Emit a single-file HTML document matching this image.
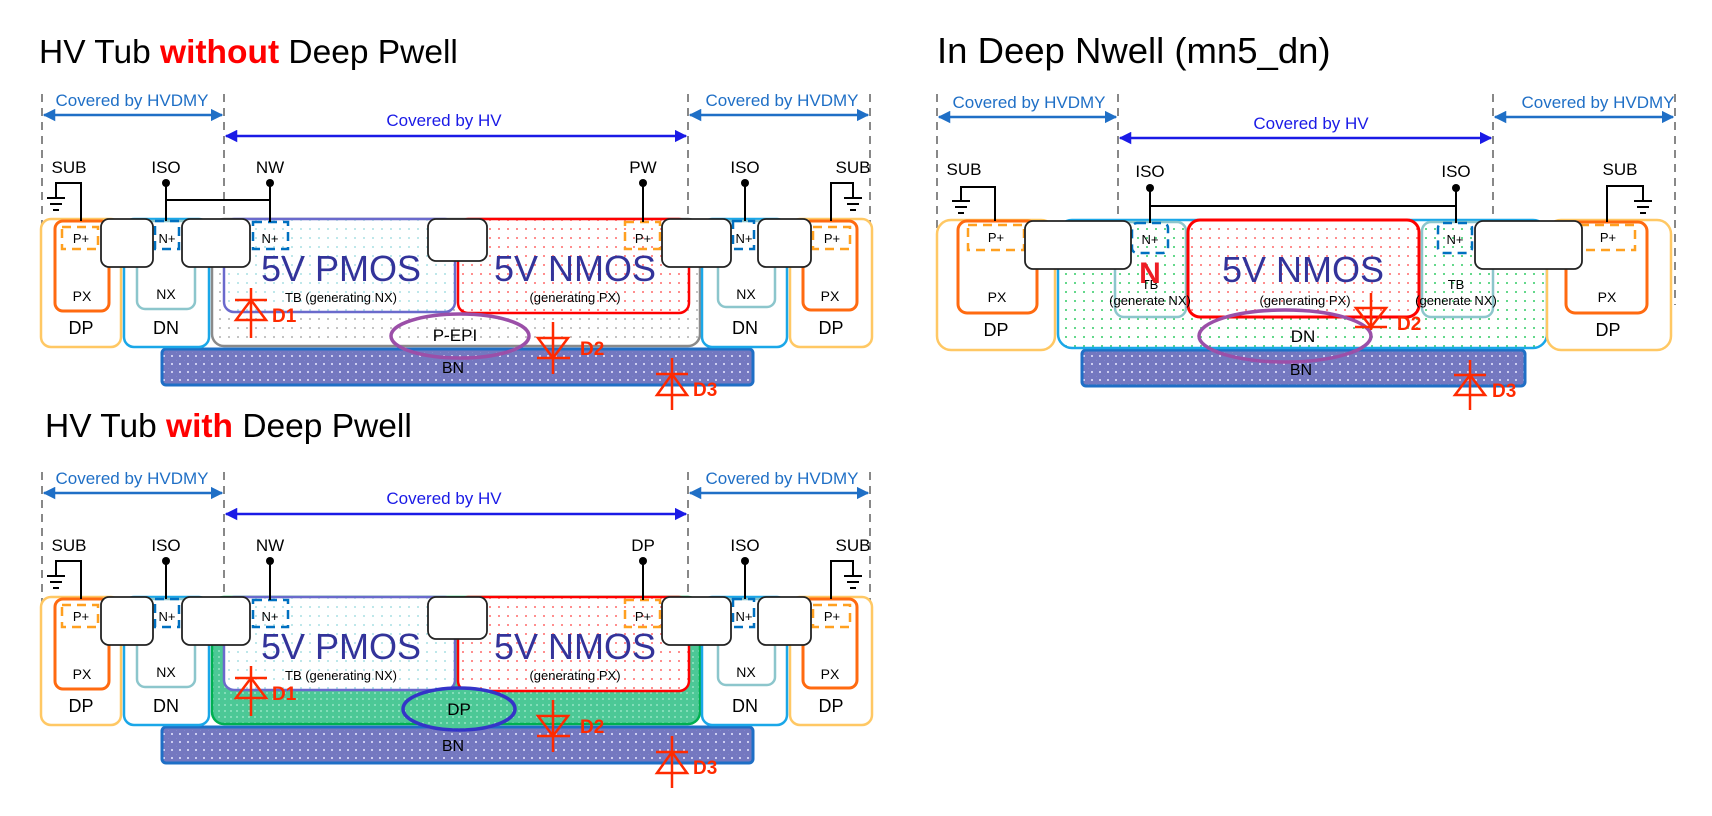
<!DOCTYPE html>
<html><head><meta charset="utf-8"><style>
html,body{margin:0;padding:0;background:#fff;}
svg{display:block;font-family:"Liberation Sans",Arial,sans-serif;}
</style></head><body>
<svg width="1712" height="816" viewBox="0 0 1712 816" xmlns="http://www.w3.org/2000/svg">
<defs>
<pattern id="pg" width="9" height="9" patternUnits="userSpaceOnUse"><rect width="9" height="9" fill="#fff"/><circle cx="4" cy="4" r="0.9" fill="#999"/></pattern>
<pattern id="pc" width="9" height="9" patternUnits="userSpaceOnUse"><rect width="9" height="9" fill="#fff"/><circle cx="4" cy="4" r="0.9" fill="#8fd6dc"/></pattern>
<pattern id="pr" width="9" height="9" patternUnits="userSpaceOnUse"><rect width="9" height="9" fill="#fff"/><circle cx="4" cy="4" r="1" fill="#ff6a6a"/></pattern>
<pattern id="pgr" width="9" height="9" patternUnits="userSpaceOnUse"><rect width="9" height="9" fill="#fff"/><circle cx="4" cy="4" r="1" fill="#33cc66"/></pattern>
<pattern id="pgreen" width="6" height="6" patternUnits="userSpaceOnUse"><rect width="6" height="6" fill="#4cc896"/><circle cx="3" cy="3" r="0.9" fill="#a8ecd0"/></pattern>
<pattern id="pbn" width="8" height="8" patternUnits="userSpaceOnUse"><rect width="8" height="8" fill="#7478c0"/><circle cx="4" cy="4" r="1" fill="#e8e8ff"/><circle cx="0" cy="0" r="0.6" fill="#a6a8dc"/></pattern>
<marker id="ab" viewBox="0 0 10 10" refX="9" refY="5" markerWidth="5" markerHeight="5" orient="auto-start-reverse"><path d="M0,0 L10,5 L0,10 z" fill="#1f6fc6"/></marker>
<marker id="av" viewBox="0 0 10 10" refX="9" refY="5" markerWidth="5" markerHeight="5" orient="auto-start-reverse"><path d="M0,0 L10,5 L0,10 z" fill="#1a1ae6"/></marker>
</defs>

<text x="39" y="63" font-size="33.5" fill="#000">HV Tub <tspan fill="#f00" font-weight="bold">without</tspan> Deep Pwell</text>
<text x="45" y="437" font-size="33.5" fill="#000">HV Tub <tspan fill="#f00" font-weight="bold">with</tspan> Deep Pwell</text>
<text x="937" y="63" font-size="36.5" fill="#000">In Deep Nwell (mn5_dn)</text>

<g id="L1">
<g stroke="#888" stroke-width="2" stroke-dasharray="8,6">
<line x1="42" y1="94" x2="42" y2="335"/><line x1="224" y1="94" x2="224" y2="335"/>
<line x1="688" y1="94" x2="688" y2="335"/><line x1="870" y1="94" x2="870" y2="335"/>
</g>
<text x="132" y="106" font-size="17" fill="#1f6fc6" text-anchor="middle">Covered by HVDMY</text>
<line x1="44" y1="115" x2="222" y2="115" stroke="#1f6fc6" stroke-width="2.5" marker-start="url(#ab)" marker-end="url(#ab)"/>
<text x="782" y="106" font-size="17" fill="#1f6fc6" text-anchor="middle">Covered by HVDMY</text>
<line x1="690" y1="115" x2="868" y2="115" stroke="#1f6fc6" stroke-width="2.5" marker-start="url(#ab)" marker-end="url(#ab)"/>
<text x="444" y="126" font-size="17" fill="#1a1ae6" text-anchor="middle">Covered by HV</text>
<line x1="226" y1="136" x2="686" y2="136" stroke="#1a1ae6" stroke-width="2.5" marker-start="url(#av)" marker-end="url(#av)"/>

<rect x="162" y="349" width="591" height="36" rx="4" fill="url(#pbn)" stroke="#1f6fc6" stroke-width="3"/>
<text x="453" y="373" font-size="16" text-anchor="middle">BN</text>
<rect x="212" y="219" width="488" height="127" rx="12" fill="url(#pg)" stroke="#8a8a8a" stroke-width="2.5"/>
<rect x="41" y="219" width="80" height="128" rx="10" fill="#fff" stroke="#ffc864" stroke-width="2.5"/>
<rect x="55" y="221" width="54" height="90" rx="8" fill="#fff" stroke="#ff6a10" stroke-width="3"/>
<rect x="124" y="219" width="85" height="128" rx="10" fill="#fff" stroke="#1aa7e8" stroke-width="2.5"/>
<rect x="137" y="221" width="58" height="88" rx="8" fill="#fff" stroke="#8cc6cc" stroke-width="2.5"/>
<rect x="702" y="219" width="85" height="128" rx="10" fill="#fff" stroke="#1aa7e8" stroke-width="2.5"/>
<rect x="718" y="221" width="57" height="86" rx="8" fill="#fff" stroke="#8cc6cc" stroke-width="2.5"/>
<rect x="790" y="219" width="82" height="128" rx="10" fill="#fff" stroke="#ffc864" stroke-width="2.5"/>
<rect x="803" y="221" width="54" height="89" rx="8" fill="#fff" stroke="#ff6a10" stroke-width="3"/>
<rect x="224" y="219" width="231" height="93" rx="10" fill="url(#pc)" stroke="#6a6acc" stroke-width="2.5"/>
<rect x="458" y="219" width="231" height="94" rx="10" fill="url(#pr)" stroke="#f00" stroke-width="2.5"/>
<g fill="none" stroke-width="2.5" stroke-dasharray="9,6">
<rect x="62" y="227" width="36" height="22" stroke="#ffa020"/>
<rect x="155" y="221" width="24" height="28" stroke="#0070c0"/>
<rect x="253" y="222" width="35" height="27" stroke="#0070c0"/>
<rect x="625" y="222" width="35" height="27" stroke="#ffa020"/>
<rect x="733" y="221" width="21" height="28" stroke="#0070c0"/>
<rect x="813" y="227" width="37" height="22" stroke="#ffa020"/>
</g>
<g fill="#fff" stroke="#222" stroke-width="1.8">
<rect x="101" y="219" width="52" height="48" rx="8"/>
<rect x="182" y="219" width="68" height="48" rx="8"/>
<rect x="428" y="219" width="59" height="42" rx="8"/>
<rect x="662" y="219" width="69" height="48" rx="8"/>
<rect x="758" y="219" width="53" height="48" rx="8"/>
</g>
<g font-size="13" text-anchor="middle">
<text x="81" y="243">P+</text><text x="167" y="243">N+</text><text x="270" y="243">N+</text>
<text x="643" y="243">P+</text><text x="744" y="243">N+</text><text x="832" y="243">P+</text>
<text x="82" y="301" font-size="14">PX</text><text x="166" y="299" font-size="14">NX</text>
<text x="746" y="299" font-size="14">NX</text><text x="830" y="301" font-size="14">PX</text>
<text x="81" y="334" font-size="18">DP</text><text x="166" y="334" font-size="18">DN</text>
<text x="745" y="334" font-size="18">DN</text><text x="831" y="334" font-size="18">DP</text>
</g>
<text x="341" y="281" font-size="36" fill="#33339a" text-anchor="middle">5V PMOS</text>
<text x="341" y="302" font-size="13" text-anchor="middle">TB (generating NX)</text>
<text x="575" y="281" font-size="36" fill="#33339a" text-anchor="middle">5V NMOS</text>
<text x="575" y="302" font-size="13" text-anchor="middle">(generating PX)</text>
<g stroke="#000" stroke-width="2" fill="none">
<polyline points="81,221 81,183 56,183 56,198"/>
<line x1="47" y1="198" x2="65" y2="198"/><line x1="50" y1="204" x2="62" y2="204"/><line x1="53" y1="210" x2="59" y2="210"/>
<line x1="166" y1="183" x2="166" y2="221"/><line x1="270" y1="183" x2="270" y2="222"/>
<line x1="643" y1="183" x2="643" y2="222"/><line x1="745" y1="183" x2="745" y2="221"/>
<polyline points="831,221 831,183 853,183 853,197"/>
<line x1="844" y1="198" x2="862" y2="198"/><line x1="847" y1="204" x2="859" y2="204"/><line x1="850" y1="210" x2="856" y2="210"/>
</g>
<g fill="#000"><circle cx="166" cy="183" r="4"/><circle cx="270" cy="183" r="4"/><circle cx="643" cy="183" r="4"/><circle cx="745" cy="183" r="4"/></g>
<g font-size="17" text-anchor="middle">
<text x="69" y="173">SUB</text><text x="166" y="173">ISO</text><text x="853" y="173">SUB</text><text x="745" y="173">ISO</text>
</g>
</g>

<g>
<polyline points="166,200 270,200" stroke="#000" stroke-width="2" fill="none"/>
<text x="270" y="173" font-size="17" text-anchor="middle">NW</text>
<text x="643" y="173" font-size="17" text-anchor="middle">PW</text>
<ellipse cx="460" cy="336" rx="69" ry="22" fill="none" stroke="#9b4fa8" stroke-width="3.5"/>
<text x="455" y="341" font-size="17" text-anchor="middle">P-EPI</text>
</g>

<g stroke="#ff2a00" stroke-width="2.5" fill="none">
<line x1="251" y1="288" x2="251" y2="338"/><line x1="235" y1="300" x2="267" y2="300"/><polygon points="251,300 236,320 266,320"/>
<line x1="553" y1="322" x2="553" y2="374"/><line x1="537" y1="358" x2="570" y2="358"/><polygon points="538,338 568,338 553,358"/>
<line x1="672" y1="358" x2="672" y2="410"/><line x1="656" y1="374" x2="688" y2="374"/><polygon points="672,374 657,395 687,395"/>
</g>
<g fill="#ff2a00" font-weight="bold" font-size="19">
<text x="272" y="322">D1</text><text x="580" y="355">D2</text><text x="693" y="396">D3</text>
</g>

<g transform="translate(0,378)">
<g stroke="#888" stroke-width="2" stroke-dasharray="8,6">
<line x1="42" y1="94" x2="42" y2="335"/><line x1="224" y1="94" x2="224" y2="335"/>
<line x1="688" y1="94" x2="688" y2="335"/><line x1="870" y1="94" x2="870" y2="335"/>
</g>
<text x="132" y="106" font-size="17" fill="#1f6fc6" text-anchor="middle">Covered by HVDMY</text>
<line x1="44" y1="115" x2="222" y2="115" stroke="#1f6fc6" stroke-width="2.5" marker-start="url(#ab)" marker-end="url(#ab)"/>
<text x="782" y="106" font-size="17" fill="#1f6fc6" text-anchor="middle">Covered by HVDMY</text>
<line x1="690" y1="115" x2="868" y2="115" stroke="#1f6fc6" stroke-width="2.5" marker-start="url(#ab)" marker-end="url(#ab)"/>
<text x="444" y="126" font-size="17" fill="#1a1ae6" text-anchor="middle">Covered by HV</text>
<line x1="226" y1="136" x2="686" y2="136" stroke="#1a1ae6" stroke-width="2.5" marker-start="url(#av)" marker-end="url(#av)"/>

<rect x="162" y="349" width="591" height="36" rx="4" fill="url(#pbn)" stroke="#1f6fc6" stroke-width="3"/>
<text x="453" y="373" font-size="16" text-anchor="middle">BN</text>
<rect x="212" y="219" width="488" height="127" rx="12" fill="url(#pgreen)" stroke="#00b050" stroke-width="2.5"/>
<rect x="41" y="219" width="80" height="128" rx="10" fill="#fff" stroke="#ffc864" stroke-width="2.5"/>
<rect x="55" y="221" width="54" height="90" rx="8" fill="#fff" stroke="#ff6a10" stroke-width="3"/>
<rect x="124" y="219" width="85" height="128" rx="10" fill="#fff" stroke="#1aa7e8" stroke-width="2.5"/>
<rect x="137" y="221" width="58" height="88" rx="8" fill="#fff" stroke="#8cc6cc" stroke-width="2.5"/>
<rect x="702" y="219" width="85" height="128" rx="10" fill="#fff" stroke="#1aa7e8" stroke-width="2.5"/>
<rect x="718" y="221" width="57" height="86" rx="8" fill="#fff" stroke="#8cc6cc" stroke-width="2.5"/>
<rect x="790" y="219" width="82" height="128" rx="10" fill="#fff" stroke="#ffc864" stroke-width="2.5"/>
<rect x="803" y="221" width="54" height="89" rx="8" fill="#fff" stroke="#ff6a10" stroke-width="3"/>
<rect x="224" y="219" width="231" height="93" rx="10" fill="url(#pc)" stroke="#6a6acc" stroke-width="2.5"/>
<rect x="458" y="219" width="231" height="94" rx="10" fill="url(#pr)" stroke="#f00" stroke-width="2.5"/>
<g fill="none" stroke-width="2.5" stroke-dasharray="9,6">
<rect x="62" y="227" width="36" height="22" stroke="#ffa020"/>
<rect x="155" y="221" width="24" height="28" stroke="#0070c0"/>
<rect x="253" y="222" width="35" height="27" stroke="#0070c0"/>
<rect x="625" y="222" width="35" height="27" stroke="#ffa020"/>
<rect x="733" y="221" width="21" height="28" stroke="#0070c0"/>
<rect x="813" y="227" width="37" height="22" stroke="#ffa020"/>
</g>
<g fill="#fff" stroke="#222" stroke-width="1.8">
<rect x="101" y="219" width="52" height="48" rx="8"/>
<rect x="182" y="219" width="68" height="48" rx="8"/>
<rect x="428" y="219" width="59" height="42" rx="8"/>
<rect x="662" y="219" width="69" height="48" rx="8"/>
<rect x="758" y="219" width="53" height="48" rx="8"/>
</g>
<g font-size="13" text-anchor="middle">
<text x="81" y="243">P+</text><text x="167" y="243">N+</text><text x="270" y="243">N+</text>
<text x="643" y="243">P+</text><text x="744" y="243">N+</text><text x="832" y="243">P+</text>
<text x="82" y="301" font-size="14">PX</text><text x="166" y="299" font-size="14">NX</text>
<text x="746" y="299" font-size="14">NX</text><text x="830" y="301" font-size="14">PX</text>
<text x="81" y="334" font-size="18">DP</text><text x="166" y="334" font-size="18">DN</text>
<text x="745" y="334" font-size="18">DN</text><text x="831" y="334" font-size="18">DP</text>
</g>
<text x="341" y="281" font-size="36" fill="#33339a" text-anchor="middle">5V PMOS</text>
<text x="341" y="302" font-size="13" text-anchor="middle">TB (generating NX)</text>
<text x="575" y="281" font-size="36" fill="#33339a" text-anchor="middle">5V NMOS</text>
<text x="575" y="302" font-size="13" text-anchor="middle">(generating PX)</text>
<g stroke="#000" stroke-width="2" fill="none">
<polyline points="81,221 81,183 56,183 56,198"/>
<line x1="47" y1="198" x2="65" y2="198"/><line x1="50" y1="204" x2="62" y2="204"/><line x1="53" y1="210" x2="59" y2="210"/>
<line x1="166" y1="183" x2="166" y2="221"/><line x1="270" y1="183" x2="270" y2="222"/>
<line x1="643" y1="183" x2="643" y2="222"/><line x1="745" y1="183" x2="745" y2="221"/>
<polyline points="831,221 831,183 853,183 853,197"/>
<line x1="844" y1="198" x2="862" y2="198"/><line x1="847" y1="204" x2="859" y2="204"/><line x1="850" y1="210" x2="856" y2="210"/>
</g>
<g fill="#000"><circle cx="166" cy="183" r="4"/><circle cx="270" cy="183" r="4"/><circle cx="643" cy="183" r="4"/><circle cx="745" cy="183" r="4"/></g>
<g font-size="17" text-anchor="middle">
<text x="69" y="173">SUB</text><text x="166" y="173">ISO</text><text x="853" y="173">SUB</text><text x="745" y="173">ISO</text>
<text x="270" y="173">NW</text><text x="643" y="173">DP</text>
</g>
<ellipse cx="459" cy="331" rx="56" ry="21" fill="url(#pgreen)" stroke="#3434c8" stroke-width="3.5"/>
<text x="459" y="337" font-size="17" text-anchor="middle">DP</text>
<g stroke="#ff2a00" stroke-width="2.5" fill="none">
<line x1="251" y1="288" x2="251" y2="338"/><line x1="235" y1="300" x2="267" y2="300"/><polygon points="251,300 236,320 266,320"/>
<line x1="553" y1="322" x2="553" y2="374"/><line x1="537" y1="358" x2="570" y2="358"/><polygon points="538,338 568,338 553,358"/>
<line x1="672" y1="358" x2="672" y2="410"/><line x1="656" y1="374" x2="688" y2="374"/><polygon points="672,374 657,395 687,395"/>
</g>
<g fill="#ff2a00" font-weight="bold" font-size="19">
<text x="272" y="322">D1</text><text x="580" y="355">D2</text><text x="693" y="396">D3</text>
</g>
</g>

<g>
<g stroke="#888" stroke-width="2" stroke-dasharray="8,6">
<line x1="937" y1="94" x2="937" y2="335"/><line x1="1118" y1="94" x2="1118" y2="335"/>
<line x1="1493" y1="94" x2="1493" y2="335"/><line x1="1675" y1="94" x2="1675" y2="305"/>
</g>
<text x="1029" y="108" font-size="17" fill="#1f6fc6" text-anchor="middle">Covered by HVDMY</text>
<line x1="939" y1="117" x2="1116" y2="117" stroke="#1f6fc6" stroke-width="2.5" marker-start="url(#ab)" marker-end="url(#ab)"/>
<text x="1598" y="108" font-size="17" fill="#1f6fc6" text-anchor="middle">Covered by HVDMY</text>
<line x1="1495" y1="117" x2="1673" y2="117" stroke="#1f6fc6" stroke-width="2.5" marker-start="url(#ab)" marker-end="url(#ab)"/>
<text x="1311" y="129" font-size="17" fill="#1a1ae6" text-anchor="middle">Covered by HV</text>
<line x1="1120" y1="138" x2="1491" y2="138" stroke="#1a1ae6" stroke-width="2.5" marker-start="url(#av)" marker-end="url(#av)"/>

<rect x="1082" y="350" width="443" height="36" rx="4" fill="url(#pbn)" stroke="#1f6fc6" stroke-width="3"/>
<text x="1301" y="375" font-size="16" text-anchor="middle">BN</text>
<rect x="1058" y="220" width="489" height="128" rx="14" fill="url(#pgr)" stroke="#1aa7e8" stroke-width="2.5"/>
<rect x="937" y="220" width="118" height="130" rx="14" fill="#fff" stroke="#ffc864" stroke-width="2.5"/>
<rect x="958" y="221" width="79" height="92" rx="9" fill="#fff" stroke="#ff6a10" stroke-width="3"/>
<rect x="1547" y="220" width="124" height="130" rx="14" fill="#fff" stroke="#ffc864" stroke-width="2.5"/>
<rect x="1566" y="222" width="81" height="91" rx="9" fill="#fff" stroke="#ff6a10" stroke-width="3"/>
<rect x="1115" y="222" width="71" height="95" rx="9" fill="none" stroke="#8cc6cc" stroke-width="2.5"/>
<rect x="1422" y="222" width="71" height="95" rx="9" fill="none" stroke="#8cc6cc" stroke-width="2.5"/>
<rect x="1188" y="220" width="231" height="97" rx="12" fill="url(#pr)" stroke="#f00" stroke-width="3"/>
<g fill="none" stroke-width="2.5" stroke-dasharray="9,6">
<rect x="968" y="225" width="56" height="25" stroke="#ffa020"/>
<rect x="1580" y="225" width="55" height="25" stroke="#ffa020"/>
<rect x="1132" y="223" width="36" height="30" rx="5" stroke="#0070c0"/>
<rect x="1438" y="223" width="34" height="30" rx="5" stroke="#0070c0"/>
</g>
<g fill="#fff" stroke="#222" stroke-width="1.8">
<rect x="1025" y="221" width="106" height="48" rx="8"/>
<rect x="1475" y="221" width="107" height="48" rx="8"/>
</g>
<g font-size="13" text-anchor="middle">
<text x="996" y="242">P+</text><text x="1608" y="242">P+</text>
<text x="1150" y="244">N+</text><text x="1455" y="244">N+</text>
<text x="1150" y="289">TB</text><text x="1150" y="305">(generate NX)</text>
<text x="1456" y="289">TB</text><text x="1456" y="305">(generate NX)</text>
<text x="997" y="302" font-size="14">PX</text><text x="1607" y="302" font-size="14">PX</text>
<text x="996" y="336" font-size="18">DP</text><text x="1608" y="336" font-size="18">DP</text>
</g>
<text x="1150" y="283" font-size="30" font-weight="bold" fill="#ee1c24" text-anchor="middle">N</text>
<text x="1303" y="282" font-size="36" fill="#33339a" text-anchor="middle">5V NMOS</text>
<text x="1305" y="305" font-size="13" text-anchor="middle">(generating PX)</text>
<ellipse cx="1285" cy="336" rx="86" ry="26" fill="none" stroke="#9b4fa8" stroke-width="3.5"/>
<text x="1303" y="342" font-size="17" text-anchor="middle">DN</text>
<g stroke="#000" stroke-width="2" fill="none">
<polyline points="995,221 995,187 961,187 961,200"/>
<line x1="952" y1="201" x2="970" y2="201"/><line x1="955" y1="207" x2="967" y2="207"/><line x1="958" y1="213" x2="964" y2="213"/>
<polyline points="1607,222 1607,186 1643,186 1643,200"/>
<line x1="1634" y1="201" x2="1652" y2="201"/><line x1="1637" y1="207" x2="1649" y2="207"/><line x1="1640" y1="213" x2="1646" y2="213"/>
<line x1="1150" y1="188" x2="1150" y2="223"/><line x1="1456" y1="188" x2="1456" y2="223"/>
<line x1="1150" y1="206" x2="1456" y2="206"/>
</g>
<g fill="#000"><circle cx="1150" cy="188" r="4"/><circle cx="1456" cy="188" r="4"/></g>
<g font-size="17" text-anchor="middle">
<text x="964" y="175">SUB</text><text x="1150" y="177">ISO</text><text x="1456" y="177">ISO</text><text x="1620" y="175">SUB</text>
</g>
<g stroke="#ff2a00" stroke-width="2.5" fill="none">
<line x1="1371" y1="293" x2="1371" y2="330"/><line x1="1355" y1="327" x2="1387" y2="327"/><polygon points="1356,308 1386,308 1371,327"/>
<line x1="1470" y1="360" x2="1470" y2="410"/><line x1="1454" y1="375" x2="1486" y2="375"/><polygon points="1470,375 1455,395 1485,395"/>
</g>
<g fill="#ff2a00" font-weight="bold" font-size="19">
<text x="1397" y="330">D2</text><text x="1492" y="397">D3</text>
</g>
</g>
</svg>
</body></html>
